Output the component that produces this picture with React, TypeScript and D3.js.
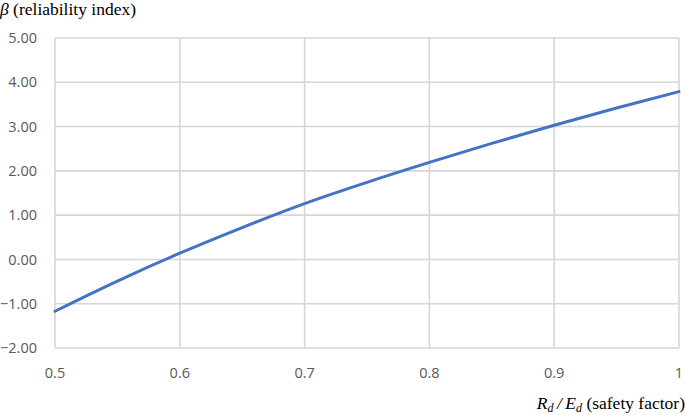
import React, { useEffect, useRef } from 'react';
import * as d3 from 'd3';

// safety factor Rd/Ed vs reliability index beta
const safetyFactor = [0.5, 0.55, 0.6, 0.65, 0.7, 0.75, 0.8, 0.85, 0.9, 0.95, 1.0];
const betaValues = [-1.17, -0.49, 0.14, 0.72, 1.26, 1.74, 2.19, 2.62, 3.03, 3.42, 3.79];
const xTicks = [0.5, 0.6, 0.7, 0.8, 0.9, 1];
const yTicks = [-2, -1, 0, 1, 2, 3, 4, 5];

const App: React.FC = () => {
  const svgRef = useRef<SVGSVGElement>(null);

  useEffect(() => {
    if (!svgRef.current) return;
    const svg = d3.select(svgRef.current);
    svg.selectAll('*').remove();

    const width = 685;
    const height = 415;
    const margin = { top: 38, right: 6, bottom: 67, left: 55 };

    const x = d3.scaleLinear().domain([0.5, 1]).range([margin.left, width - margin.right]);
    const y = d3.scaleLinear().domain([-2, 5]).range([height - margin.bottom, margin.top]);

    const grid = '#d6d6d6';
    const tickColor = '#595959';

    // horizontal gridlines
    svg.append('g')
      .selectAll('line')
      .data(yTicks)
      .enter()
      .append('line')
      .attr('x1', x(0.5))
      .attr('x2', x(1))
      .attr('y1', d => y(d))
      .attr('y2', d => y(d))
      .attr('stroke', grid)
      .attr('stroke-width', 1.6);

    // vertical gridlines
    svg.append('g')
      .selectAll('line')
      .data(xTicks)
      .enter()
      .append('line')
      .attr('x1', d => x(d))
      .attr('x2', d => x(d))
      .attr('y1', y(5))
      .attr('y2', y(-2))
      .attr('stroke', grid)
      .attr('stroke-width', 1.6);

    // y tick labels
    svg.append('g')
      .selectAll('text')
      .data(yTicks)
      .enter()
      .append('text')
      .attr('x', 37)
      .attr('y', d => y(d))
      .attr('dy', '0.35em')
      .attr('text-anchor', 'end')
      .attr('font-family', '"Open Sans", sans-serif')
      .attr('font-size', 14.5)
      .attr('fill', tickColor)
      .text(d => d3.format('.2f')(d));

    // x tick labels
    svg.append('g')
      .selectAll('text')
      .data(xTicks)
      .enter()
      .append('text')
      .attr('x', d => x(d))
      .attr('y', 373)
      .attr('dy', '0.35em')
      .attr('text-anchor', 'middle')
      .attr('font-family', '"Open Sans", sans-serif')
      .attr('font-size', 14.5)
      .attr('fill', tickColor)
      .text(d => String(d));

    // curve
    const line = d3.line<number>()
      .x((_, i) => x(safetyFactor[i]))
      .y(d => y(d))
      .curve(d3.curveMonotoneX);

    svg.append('path')
      .datum(betaValues)
      .attr('d', line)
      .attr('fill', 'none')
      .attr('stroke', '#4472C4')
      .attr('stroke-width', 3)
      .attr('stroke-linecap', 'round');

    // y axis title
    const yTitle = svg.append('text')
      .attr('x', 0)
      .attr('y', 15)
      .attr('font-family', '"Liberation Serif", serif')
      .attr('font-size', 17.5)
      .attr('fill', '#000');
    yTitle.append('tspan').attr('font-style', 'italic').text('β');
    yTitle.append('tspan').text(' (reliability index)');

    // x axis title
    const xTitle = svg.append('text')
      .attr('x', 685)
      .attr('y', 409)
      .attr('text-anchor', 'end')
      .attr('font-family', '"Liberation Serif", serif')
      .attr('font-size', 17.5)
      .attr('fill', '#000');
    xTitle.append('tspan').attr('font-style', 'italic').text('R');
    xTitle.append('tspan').attr('font-style', 'italic').attr('font-size', 12).attr('dy', 3).text('d');
    xTitle.append('tspan').attr('font-style', 'italic').attr('dy', -3).text('\u2009/\u2009');
    xTitle.append('tspan').attr('font-style', 'italic').text('E');
    xTitle.append('tspan').attr('font-style', 'italic').attr('font-size', 12).attr('dy', 3).text('d');
    xTitle.append('tspan').attr('dy', -3).text(' (safety factor)');
  }, []);

  return (
    <svg
      ref={svgRef}
      width={685}
      height={415}
      style={{ position: 'absolute', left: 0, top: 0, background: '#fff' }}
    />
  );
};

export default App;
